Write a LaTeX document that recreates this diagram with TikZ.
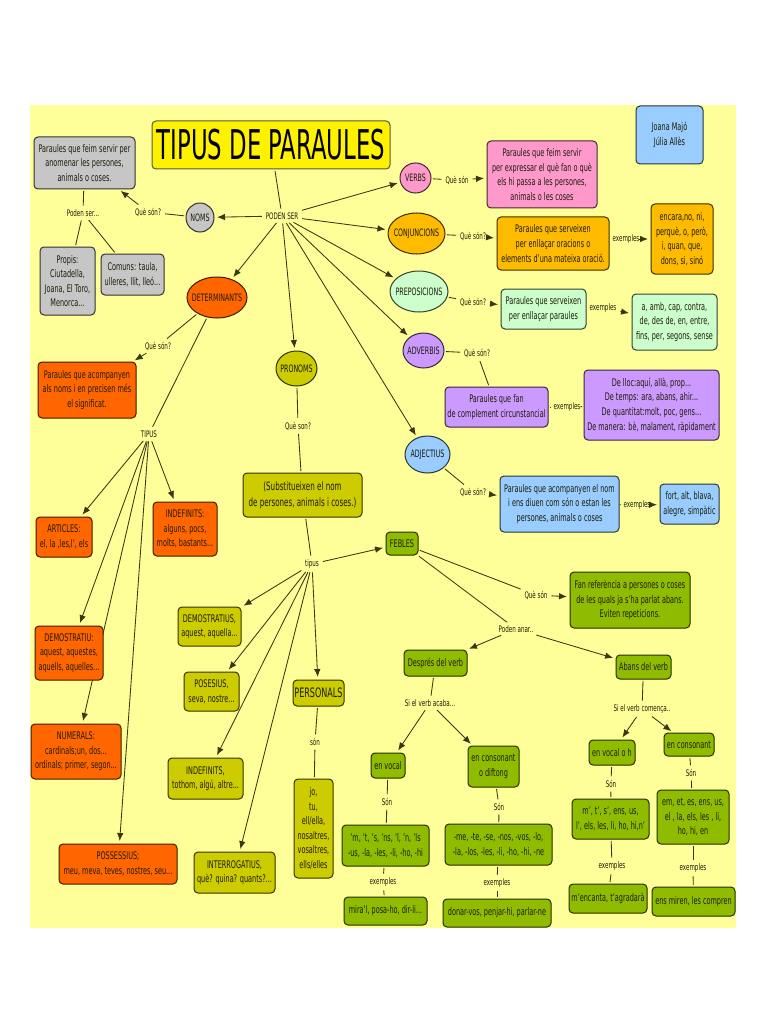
\documentclass[tikz,border=0pt]{standalone}
\usepackage{fontspec}
\setmainfont{DejaVu Sans}[FakeStretch=0.62]
\newfontfamily\titlefont{DejaVu Sans}[FakeStretch=0.555]
\usetikzlibrary{arrows.meta,shapes.geometric}
\pgfdeclarelayer{back}\pgfdeclarelayer{edges}\pgfsetlayers{back,edges,main}
\definecolor{paper}{HTML}{FFFF99}
\definecolor{ink}{HTML}{1C1C08}
\definecolor{edgeink}{HTML}{38380F}
\definecolor{gris}{HTML}{C6C6C6}
\definecolor{taronja}{HTML}{FF6600}
\definecolor{oliva}{HTML}{CCCC00}
\definecolor{verd}{HTML}{8FBC00}
\definecolor{rosa}{HTML}{FF99CC}
\definecolor{ambre}{HTML}{FFBB00}
\definecolor{menta}{HTML}{CCFFCC}
\definecolor{lila}{HTML}{CC99FF}
\definecolor{blau}{HTML}{99CCFF}
\tikzset{
 x=1pt,y=-1pt,
 txt/.style={text=ink,align=center,inner sep=0pt,outer sep=0pt,font=\fontsize{10.5}{14.6}\selectfont},
 bbox/.style={txt,rectangle,rounded corners=4pt,draw=black!75!#1,line width=1pt,fill=#1},
 oval/.style={txt,ellipse,draw=black!75!#1,line width=1pt,fill=#1,font=\fontsize{10.2}{13}\selectfont},
 lab/.style={text=ink,inner sep=2pt,outer sep=0pt,font=\fontsize{9}{10}\selectfont},
 conn/.style={draw=edgeink,line width=0.85pt,shorten >=2pt,shorten <=2pt},
 arr/.style={conn,-{Latex[length=8pt,width=6.5pt]},shorten >=3pt}
}
\newcommand\bx[7]{\node[#1,minimum width={#5-#3},minimum height={#6-#4}] (#2) at ({(#3+#5)/2},{(#4+#6)/2}) {#7};}
\newcommand\ov[7]{\node[oval=#1,minimum width={#5-#3},minimum height={#6-#4}] (#2) at ({(#3+#5)/2},{(#4+#6)/2}) {\makebox[0pt][c]{#7}};}
\newcommand\lb[4]{\node[lab] (#1) at (#2,#3) {#4};}
\newcommand\cn[2]{\draw[conn] (#1) -- (#2);}
\newcommand\ar[2]{\draw[arr] (#1) -- (#2);}
\begin{document}
\begin{tikzpicture}
\begin{pgfonlayer}{back}
\fill[white] (0,0) rectangle (768,1024);
\fill[paper] (30,105) rectangle (736,928);
\end{pgfonlayer}
\useasboundingbox (0,0) rectangle (768,1024);
% title and authors
\bx{bbox=yellow,font=\titlefont\fontsize{41}{44}\selectfont,text=black}{title}{152}{121}{390}{169}{TIPUS DE PARAULES}
\bx{bbox=blau}{autors}{636}{106}{703}{164}{Joana Majó\\Júlia Allès}
\lb{poden}{282}{216}{PODEN SER}
% noms
\ov{gris}{noms}{186}{203}{214}{232}{NOMS}
\lb{qnoms}{148}{212}{Què són?}
\bx{bbox=gris}{dnoms}{34}{137}{135}{189}{Paraules que feim servir per\\anomenar les persones,\\animals o coses.}
\lb{pser}{83}{213}{Poden ser...}
\bx{bbox=gris}{propis}{40}{247}{95}{315}{Propis:\\Ciutadella,\\Joana, El Toro,\\Menorca...}
\bx{bbox=gris}{comuns}{101}{254}{164}{295}{Comuns: taula,\\ulleres, llit, lleó...}
% determinants
\ov{taronja}{det}{187}{277}{247}{318}{DETERMINANTS}
\lb{qdet}{158}{346}{Què són?}
\bx{bbox=taronja}{ddet}{38}{362}{136}{418}{Paraules que acompanyen\\als noms i en precisen més\\el significat.}
\lb{tdet}{149}{434}{TIPUS}
\bx{bbox=taronja}{articles}{36}{517}{92}{557}{ARTICLES:\\el, la ,les,l', els}
\bx{bbox=taronja}{indef}{153}{502}{217}{556}{INDEFINITS:\\alguns, pocs,\\molts, bastants...}
\bx{bbox=taronja}{demo}{35}{626}{103}{680}{DEMOSTRATIU:\\aquest, aquestes,\\aquells, aquelles...}
\bx{bbox=taronja}{numer}{31}{724}{121}{779}{NUMERALS:\\cardinals;un, dos...\\ordinals; primer, segon...}
\bx{bbox=taronja}{poss}{59}{844}{177}{884}{POSSESSIUS;\\meu, meva, teves, nostres, seu...}
% pronoms
\ov{oliva}{pron}{276}{351}{317}{386}{PRONOMS}
\lb{qpron}{298}{426}{Què son?}
\bx{bbox=oliva,font=\fontsize{11.5}{16}\selectfont}{subst}{243}{473}{362}{517}{(Substitueixen el nom\\de persones, animals i coses.)}
\lb{tpron}{312}{564}{tipus}
\bx{bbox=oliva}{demos}{178}{607}{241}{646}{DEMOSTRATIUS,\\aquest, aquella...}
\bx{bbox=oliva}{poses}{184}{672}{239}{711}{POSESIUS,\\seva, nostre...}
\bx{bbox=oliva}{indefp}{168}{758}{243}{799}{INDEFINITS,\\tothom, algú, altre...}
\bx{bbox=oliva}{interr}{194}{852}{275}{893}{INTERROGATIUS,\\què? quina? quants?...}
\bx{bbox=oliva,font=\fontsize{13}{14}\selectfont}{perso}{293}{680}{344}{706}{PERSONALS}
\lb{sperso}{315}{742}{són}
\bx{bbox=oliva}{jo}{294}{779}{333}{878}{jo,\\tu,\\ell/ella,\\nosaltres,\\vosaltres,\\ells/elles}
% right column
\ov{rosa}{verbs}{400}{163}{431}{193}{VERBS}
\lb{qverbs}{457}{180}{Què són}
\bx{bbox=rosa}{dverbs}{487}{141}{597}{208}{Paraules que feim servir\\per expressar el què fan o què\\els hi passa a les persones,\\animals o les coses}
\ov{ambre}{conj}{388}{213}{445}{254}{CONJUNCIONS}
\lb{qconj}{473}{236}{Què són?}
\bx{bbox=ambre}{dconj}{497}{217}{609}{270}{Paraules que serveixen\\per enllaçar oracions o\\elements d'una mateixa oració.}
\lb{econj}{626}{239}{exemples}
\bx{bbox=ambre}{xconj}{651}{204}{713}{274}{encara,no, ni,\\perquè, o, però,\\i, quan, que,\\dons, si, sinó}
\ov{menta}{prep}{390}{271}{448}{312}{PREPOSICIONS}
\lb{qprep}{473}{302}{Què són?}
\bx{bbox=menta}{dprep}{501}{289}{586}{329}{Paraules que serveixen\\per enllaçar paraules}
\lb{eprep}{603}{308}{exemples}
\bx{bbox=menta}{xprep}{632}{294}{717}{350}{a, amb, cap, contra,\\de, des de, en, entre,\\fins, per, segons, sense}
\ov{lila}{adv}{403}{333}{444}{368}{ADVERBIS}
\lb{qadv}{477}{353}{Què són?}
\bx{bbox=lila}{dadv}{445}{387}{548}{427}{Paraules que fan\\de complement circunstancial}
\lb{eadv}{567}{407}{exemples}
\bx{bbox=lila}{xadv}{584}{370}{719}{440}{De lloc:aquí, allà, prop...\\De temps: ara, abans, ahir...\\De quantitat:molt, poc, gens...\\De manera: bè, malament, ràpidament}
\ov{blau}{adj}{405}{436}{450}{473}{ADJECTIUS}
\lb{qadj}{473}{492}{Què són?}
\bx{bbox=blau}{dadj}{500}{476}{619}{532}{Paraules que acompanyen el nom\\i ens diuen com són o estan les\\persones, animals o coses}
\lb{eadj}{637}{505}{exemples}
\bx{bbox=blau}{xadj}{660}{484}{719}{524}{fort, alt, blava,\\alegre, simpàtic}
% febles
\bx{bbox=verd}{febles}{386}{532}{418}{555}{FEBLES}
\lb{qfeb}{536}{595}{Què són}
\bx{bbox=verd}{dfeb}{570}{572}{690}{628}{Fan referència a persones o coses\\de les quals ja s'ha parlat abans.\\Eviten repeticions.}
\lb{anar}{516}{629}{Poden anar..}
\bx{bbox=verd}{desp}{404}{650}{467}{676}{Després del verb}
\bx{bbox=verd}{abans}{616}{655}{671}{679}{Abans del verb}
\lb{sacaba}{430}{703}{Si el verb acaba...}
\lb{scomen}{642}{709}{Si el verb comença..}
\bx{bbox=verd}{evoc}{371}{753}{405}{778}{en vocal}
\bx{bbox=verd}{econs}{468}{746}{519}{787}{en consonant\\o diftong}
\lb{s1}{387}{802}{Són}
\lb{s2}{499}{807}{Són}
\bx{bbox=verd}{pm}{342}{825}{429}{866}{'m, 't, 's, 'ns, 'l, 'n, 'ls\\-us, -la, -les, -li, -ho, -hi}
\bx{bbox=verd}{pme}{445}{824}{552}{865}{-me, -te, -se, -nos, -vos, -lo,\\-la, -los, -les, -li, -ho, -hi, -ne}
\lb{e1}{383}{882}{exemples}
\lb{e2}{497}{883}{exemples}
\bx{bbox=verd}{mira}{344}{897}{427}{925}{mira'l, posa-ho, dir-li...}
\bx{bbox=verd}{donar}{443}{899}{551}{927}{donar-vos, penjar-hi, parlar-ne}
\bx{bbox=verd}{avoc}{589}{740}{635}{765}{en vocal o h}
\bx{bbox=verd}{acons}{664}{733}{714}{756}{en consonant}
\lb{s3}{611}{784}{Són}
\lb{s4}{691}{773}{Són}
\bx{bbox=verd}{pa}{572}{799}{649}{839}{m', t', s', ens, us,\\l', els, les, li, ho, hi,n'}
\bx{bbox=verd}{pb}{657}{790}{729}{844}{em, et, es, ens, us,\\el , la, els, les , li,\\ho, hi, en}
\lb{e3}{612}{866}{exemples}
\lb{e4}{693}{868}{exemples}
\bx{bbox=verd}{menc}{569}{884}{647}{913}{m'encanta, t'agradarà}
\bx{bbox=verd}{mire}{652}{887}{735}{916}{ens miren, les compren}
% connectors
\begin{pgfonlayer}{edges}
\cn{title}{poden}
\ar{poden}{noms}\ar{poden}{verbs}\ar{poden}{conj}\ar{poden}{prep}\ar{poden}{adv}\ar{poden}{adj}\ar{poden}{pron}\ar{poden}{det}
\cn{noms}{qnoms}\ar{qnoms}{dnoms}
\cn{dnoms}{pser}\cn{pser}{propis}\cn{pser}{comuns}
\cn{det}{qdet}\ar{qdet}{ddet}\cn{det}{tdet}
\ar{tdet}{articles}\ar{tdet}{indef}\ar{tdet}{demo}\ar{tdet}{numer}\ar{tdet}{poss}
\cn{pron}{qpron}\cn{qpron}{subst}\cn{subst}{tpron}
\ar{tpron}{demos}\ar{tpron}{poses}\ar{tpron}{indefp}\ar{tpron}{interr}\ar{tpron}{perso}\ar{tpron}{febles}
\cn{perso}{sperso}\cn{sperso}{jo}
\cn{verbs}{qverbs}\ar{qverbs}{dverbs}
\cn{conj}{qconj}\ar{qconj}{dconj}\cn{dconj}{econj}\ar{econj}{xconj}
\cn{prep}{qprep}\ar{qprep}{dprep}\cn{dprep}{eprep}\ar{eprep}{xprep}
\cn{adv}{qadv}\cn{qadv}{dadv}\cn{dadv}{eadv}\cn{eadv}{xadv}
\cn{adj}{qadj}\ar{qadj}{dadj}\cn{dadj}{eadj}\ar{eadj}{xadj}
\cn{febles}{qfeb}\ar{qfeb}{dfeb}\cn{febles}{anar}\ar{anar}{desp}\ar{anar}{abans}
\cn{desp}{sacaba}\ar{sacaba}{evoc}\ar{sacaba}{econs}
\cn{abans}{scomen}\ar{scomen}{avoc}\ar{scomen}{acons}
\cn{evoc}{s1}\cn{s1}{pm}\cn{pm}{e1}\cn{e1}{mira}
\cn{econs}{s2}\cn{s2}{pme}\cn{pme}{e2}\cn{e2}{donar}
\cn{avoc}{s3}\cn{s3}{pa}\cn{pa}{e3}\cn{e3}{menc}
\cn{acons}{s4}\cn{s4}{pb}\cn{pb}{e4}\cn{e4}{mire}
\end{pgfonlayer}
\end{tikzpicture}
\end{document}
